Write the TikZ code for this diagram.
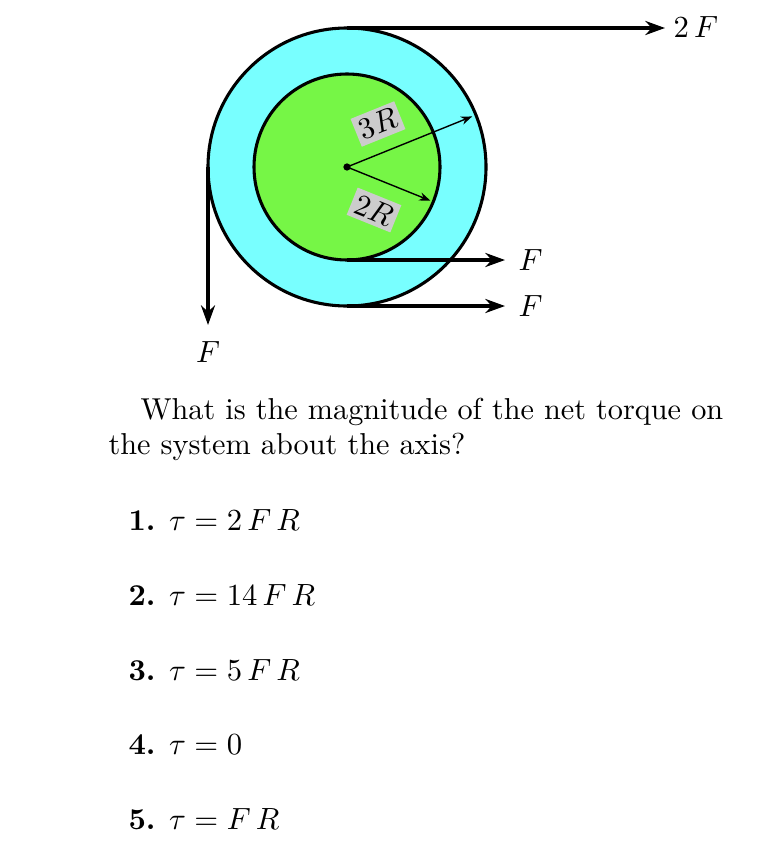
\documentclass[tikz,border=0pt]{standalone}
\usetikzlibrary{arrows.meta}
\begin{document}
\begin{tikzpicture}[x=0.357pt,y=-0.357pt,font=\fontsize{10.8}{13}\selectfont,
  force/.style={line width=1.2pt,-{Stealth[length=7pt,width=5pt]}},
  rad/.style={line width=0.5pt,-{Stealth[length=4pt,width=3pt]}},
  lbl/.style={fill=black!20,inner sep=1.5pt},
  txt/.style={anchor=base west,inner sep=0pt}]
\useasboundingbox (0,0) rectangle (780,848);
\coordinate (c) at (347,167);
\draw[line width=1.1pt,fill={rgb,255:red,120;green,255;blue,255}] (c) circle (139);
\draw[line width=1.1pt,fill={rgb,255:red,118;green,246;blue,70}] (c) circle (93);
\fill (c) circle (1.3pt);
\draw[rad] (c) -- ++(-22:135) coordinate (e3);
\draw[rad] (c) -- ++(22:90) coordinate (e2);
\node[lbl,rotate=22] (l3) at (378,124) {3$R$};
\node[lbl,rotate=-22] (l2) at (374,210) {2$R$};
\coordinate (t) at (347,28);
\coordinate (b1) at (347,260);
\coordinate (b2) at (347,306);
\coordinate (l) at (208,167);
\node[txt] (f2) at (673,38) {$2\,F$};
\node[txt] (fa) at (518,270) {$F$};
\node[txt] (fb) at (518,316) {$F$};
\node (fc) at (208,352) {$F$};
\draw[force] (t) -- (665,28);
\draw[force] (b1) -- (505,260);
\draw[force] (b2) -- (505,306);
\draw[force] (l) -- (208,325);
\node[txt] (q1) at (140,419) {What is the magnitude of the net torque on};
\node[txt] (q2) at (108,454) {the system about the axis?};
\node[txt] (o1) at (128,530) {\textbf{1.} $\tau = 2\,F\,R$};
\node[txt] (o2) at (128,605) {\textbf{2.} $\tau = 14\,F\,R$};
\node[txt] (o3) at (128,680) {\textbf{3.} $\tau = 5\,F\,R$};
\node[txt] (o4) at (128,754) {\textbf{4.} $\tau = 0$};
\node[txt] (o5) at (128,829) {\textbf{5.} $\tau = F\,R$};
\end{tikzpicture}
\end{document}
